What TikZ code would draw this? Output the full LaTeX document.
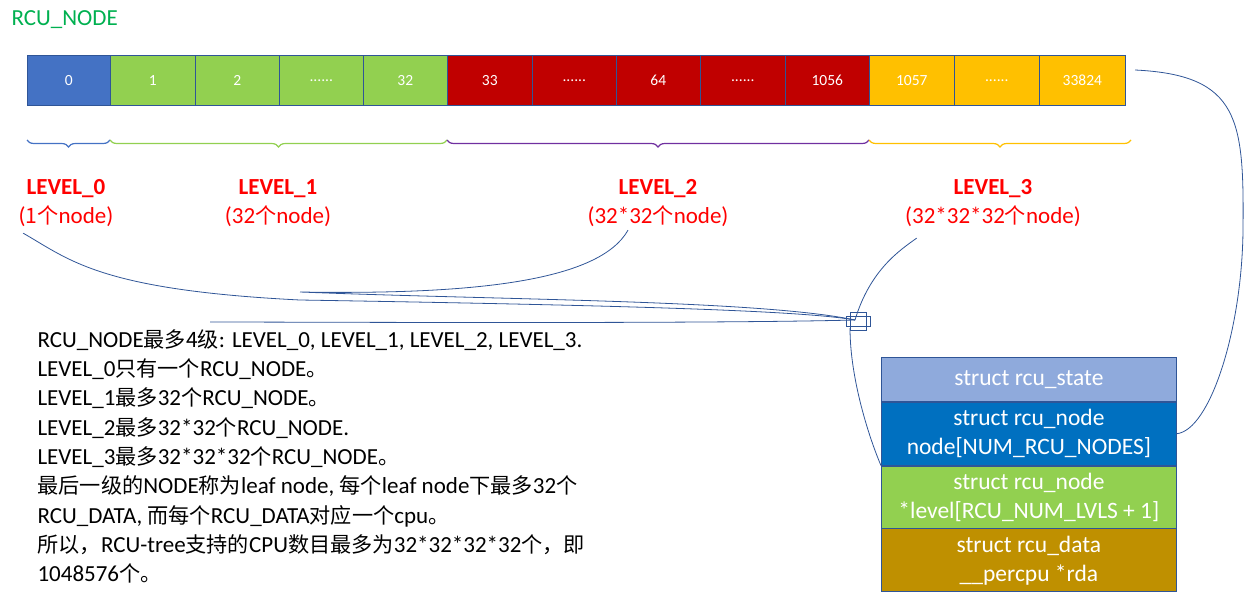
\documentclass[tikz,border=0pt]{standalone}
\usepackage{fontspec}
\setmainfont{Carlito}
\newfontfamily\cjk{Noto Sans CJK SC}[Scale=0.92]
\usetikzlibrary{decorations.pathreplacing}
\definecolor{cblue}{RGB}{68,114,196}
\definecolor{cgreen}{RGB}{146,208,80}
\definecolor{cred}{RGB}{192,0,0}
\definecolor{cgold}{RGB}{255,192,0}
\definecolor{cpurple}{RGB}{112,48,160}
\definecolor{ttl}{RGB}{0,176,80}
\definecolor{sa}{RGB}{143,170,220}
\definecolor{sb}{RGB}{0,112,192}
\definecolor{sd}{RGB}{191,144,0}
\definecolor{wire}{RGB}{47,85,151}
\newcommand\sixdots{......}
\begin{document}
\begin{tikzpicture}[x=1pt,y=-1pt,
  cell/.style={draw=wire,line width=0.6pt,minimum height=50pt,inner sep=0pt,font=\fontsize{15.5}{15}\selectfont,text=white},
  lvl/.style={text=red,font=\fontsize{23}{29}\selectfont,align=center},
  st/.style={draw=wire,line width=0.8pt,minimum width=295pt,inner sep=0pt,text=white,align=center,font=\fontsize{23.5}{29}\selectfont},
  brc/.style={decorate,decoration={brace,mirror,amplitude=7pt},line width=1.2pt},
  wr/.style={draw=wire,line width=0.8pt}]
\useasboundingbox (0,0) rectangle (1249,613);
\node[text=ttl,anchor=west,font=\fontsize{23}{23}\selectfont] (ttl) at (8,20) {RCU\_NODE};
\foreach \n/\a/\b/\c/\t in {c0/27/110/cblue/0, c1/110/195/cgreen/1, c2/195/279/cgreen/2, c3/279/363/cgreen/\sixdots, c4/363/447/cgreen/32,
  c5/447/532/cred/33, c6/532/616/cred/\sixdots, c7/616/700/cred/64, c8/700/785/cred/\sixdots, c9/785/869/cred/1056,
  c10/869/954/cgold/1057, c11/954/1039/cgold/\sixdots, c12/1039/1125/cgold/33824}
  \node[cell,fill=\c,minimum width={\b-\a},anchor=north west] (\n) at (\a,55) {\t};
\draw[brc,draw=cblue] (27,140) -- (110,140);
\draw[brc,draw=cgreen] (110,140) -- (447,140);
\draw[brc,draw=cpurple] (447,140) -- (869,140);
\draw[brc,draw=cgold] (869,140) -- (1131,140);
\node[lvl] (l0) at (66,203) {\textbf{LEVEL\_0}\\({\cjk 1个}node)};
\node[lvl] (l1) at (278,203) {\textbf{LEVEL\_1}\\(32{\cjk 个}node)};
\node[lvl] (l2) at (658,203) {\textbf{LEVEL\_2}\\(32*32{\cjk 个}node)};
\node[lvl] (l3) at (993,203) {\textbf{LEVEL\_3}\\(32*32*32{\cjk 个}node)};
\node[anchor=north west,align=left,font=\fontsize{23}{29.3}\selectfont] (txt) at (34,326) {%
RCU\_NODE{\cjk 最多4级}: LEVEL\_0, LEVEL\_1, LEVEL\_2, LEVEL\_3.\\
LEVEL\_0{\cjk 只有一个}RCU\_NODE{\cjk 。}\\
LEVEL\_1{\cjk 最多}32{\cjk 个}RCU\_NODE{\cjk 。}\\
LEVEL\_2{\cjk 最多}32*32{\cjk 个}RCU\_NODE.\\
LEVEL\_3{\cjk 最多}32*32*32{\cjk 个}RCU\_NODE{\cjk 。}\\
{\cjk 最后一级的}NODE{\cjk 称为}leaf node, {\cjk 每个}leaf node{\cjk 下最多}32{\cjk 个}\\
RCU\_DATA, {\cjk 而每个}RCU\_DATA{\cjk 对应一个}cpu{\cjk 。}\\
{\cjk 所以，}RCU-tree{\cjk 支持的}CPU{\cjk 数目最多为}32*32*32*32{\cjk 个，即}\\
1048576{\cjk 个。}};
\node[st,fill=sa,minimum height=44pt,anchor=north west] (s0) at (881,357) {struct rcu\_state};
\node[st,fill=sb,minimum height=63pt,anchor=north] (s1) at (s0.south) {struct rcu\_node\\node[NUM\_RCU\_NODES]};
\node[st,fill=cgreen,minimum height=62pt,anchor=north] (s2) at (s1.south) {struct rcu\_node\\*level[RCU\_NUM\_LVLS + 1]};
\node[st,fill=sd,minimum height=63pt,anchor=north] (s3) at (s2.south) {struct rcu\_data\\\_\_percpu *rda};
\coordinate (k) at (855,320);
\draw[wr] (l0.south west) ++(8,3) .. controls (70,260) and (100,290) .. (300,300) .. controls (600,305) and (800,310) .. (k);
\draw[wr] (210,322) .. controls (300,322) and (700,324) .. (k);
\draw[wr] (l2.south) ++(-30,0) .. controls (600,280) and (480,295) .. (300,292) .. controls (500,300) and (760,300) .. (k);
\draw[wr] (l3.south west) ++(15,8) .. controls (900,250) and (870,270) .. (k);
\draw[wr] (850,312) rectangle (866,330) (846,316) rectangle (870,326);
\draw[wr] (850,328) .. controls (850,380) and (870,440) .. (s2.north west);
\draw[wr] (s1.east) .. controls (1210,430) and (1242,330) .. (1243,230) .. controls (1244,120) and (1240,75) .. (1135,70);
\end{tikzpicture}
\end{document}
